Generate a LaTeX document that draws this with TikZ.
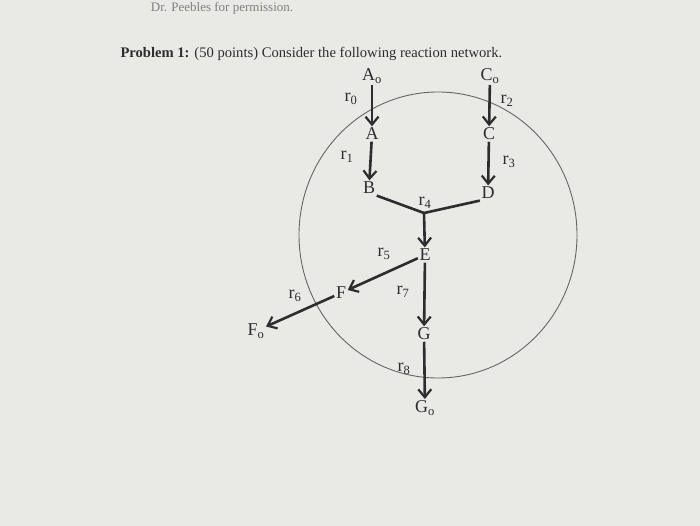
\documentclass[tikz,border=0pt]{standalone}
\usepackage{fontspec}
\setmainfont{Liberation Serif}
\usetikzlibrary{arrows.meta}

\definecolor{paper}{RGB}{233,233,230}
\definecolor{ink}{RGB}{45,45,48}

\tikzset{
  species/.style={inner sep=1.5pt, text=ink, font=\fontsize{18}{20}\selectfont},
  rate/.style={inner sep=0pt, text=ink, font=\fontsize{18}{20}\selectfont},
  flux/.style={draw=ink, line width=2.6pt, -{Straight Barb[length=8pt,width=13pt,line width=2.2pt]}},
  branch/.style={draw=ink, line width=2.6pt}
}

\begin{document}
\begin{tikzpicture}[x=1pt,y=-1pt]
    \useasboundingbox (0,0) rectangle (700,526);
    \fill[paper] (0,0) rectangle (700,526);

    % header of the scanned page
    \node[text=gray, font=\fontsize{13}{15}\selectfont] (hdr) at (222,8) {Dr. Peebles for permission.};
    \node[anchor=base west, text=ink, font=\fontsize{14.6}{17}\selectfont] (title) at (117,58)
        {\textbf{Problem 1:} (50 points) Consider the following reaction network.};

    % cell boundary
    \draw[color=gray!80!black, line width=0.9pt] (438,235) ellipse [x radius=139, y radius=143];

    % species
    \node[species] (Ao) at (372,76) {A\textsubscript{o}};
    \node[species] (Co) at (490,76) {C\textsubscript{o}};
    \node[species] (A) at (372,134) {A};
    \node[species] (B) at (369,188) {B};
    \node[species] (C) at (489,134) {C};
    \node[species] (D) at (488,193) {D};
    \node[species] (E) at (425,255) {E};
    \node[species] (F) at (341,293) {F};
    \node[species] (Fo) at (256,331) {F\textsubscript{o}};
    \node[species] (G) at (424,334) {G};
    \node[species] (Go) at (425,408) {G\textsubscript{o}};
    \coordinate (J) at (424,213);

    % reactions
    \draw[flux] (Ao) -- (A);
    \draw[flux] (A) -- (B);
    \draw[flux] (Co) -- (C);
    \draw[flux] (C) -- (D);
    \draw[branch] (B.south east) -- (J);
    \draw[branch] (D.south west) -- (J);
    \draw[flux] (J) -- (E);
    \draw[flux] (E) -- (F);
    \draw[flux] (F) -- (Fo);
    \draw[flux] (E) -- (G);
    \draw[flux] (G) -- (Go);

    % rate labels
    \node[rate] (r0) at (351,99) {r\textsubscript{0}};
    \node[rate] (r1) at (347,157) {r\textsubscript{1}};
    \node[rate] (r2) at (507,101) {r\textsubscript{2}};
    \node[rate] (r3) at (509,162) {r\textsubscript{3}};
    \node[rate] (r4) at (425,203) {r\textsubscript{4}};
    \node[rate] (r5) at (384,254) {r\textsubscript{5}};
    \node[rate] (r6) at (295,296) {r\textsubscript{6}};
    \node[rate] (r7) at (403,292) {r\textsubscript{7}};
    \node[rate] (r8) at (404,369) {r\textsubscript{8}};
\end{tikzpicture}
\end{document}
